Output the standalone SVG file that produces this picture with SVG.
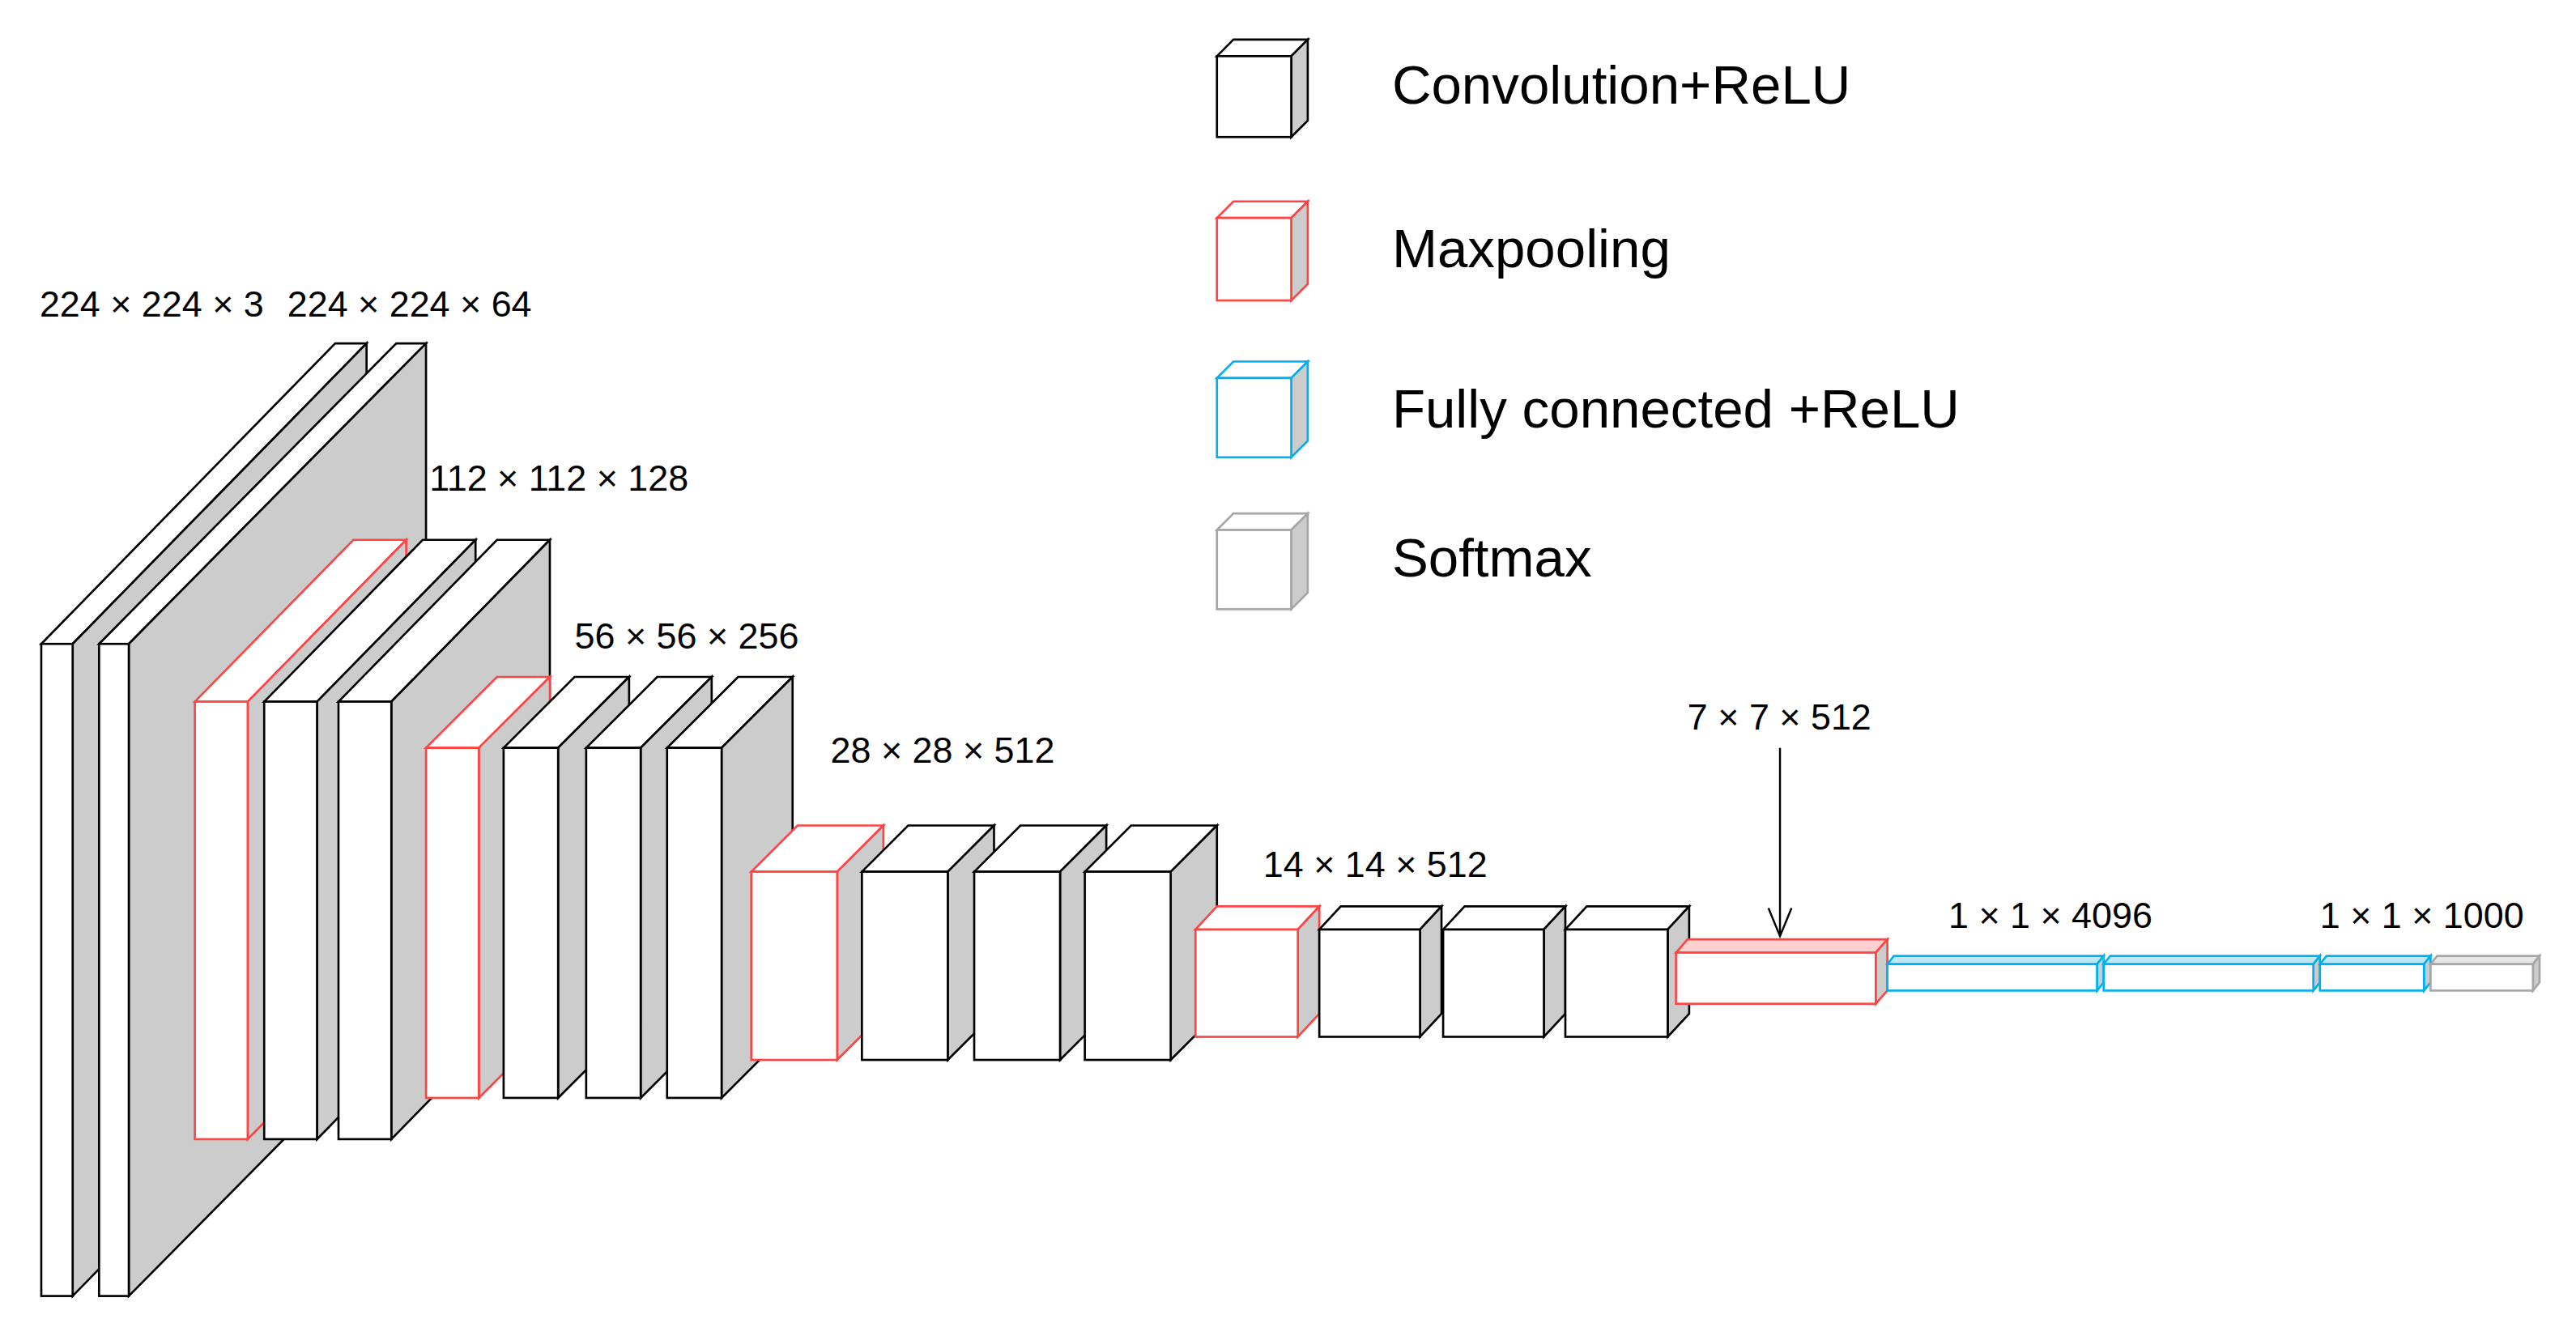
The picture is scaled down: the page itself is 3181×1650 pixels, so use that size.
<svg xmlns="http://www.w3.org/2000/svg" width="3181" height="1650" viewBox="0 0 3181 1650">
<style>
.f{fill:#fff}.s{fill:#cccccc}
.k{stroke:#000;stroke-width:1.3;stroke-linejoin:miter}
.r{stroke:#ff4444;stroke-width:1.3}
.b{stroke:#00b0f0;stroke-width:1.3}
.g{stroke:#a6a6a6;stroke-width:1.3}
text{font-family:"Liberation Sans",Arial,sans-serif;fill:#000}
.lb{font-size:22px}.lg{font-size:33px}
</style>
<rect width="3181" height="1650" fill="#fff"/>
<g transform="scale(2.039)">
<g id="layers">
<g id="l1" class="k"><polygon class="f" points="25,390 203,208 222,208 44,390"/><polygon class="s" points="44,390 222,208 222,603 44,785"/><rect class="f" x="25" y="390" width="19" height="395"/></g>
<g id="l2" class="k"><polygon class="f" points="60,390 240,208 258,208 78,390"/><polygon class="s" points="78,390 258,208 258,603 78,785"/><rect class="f" x="60" y="390" width="18" height="395"/></g>
<g id="l3" class="r"><polygon class="f" points="118,425 214,327 246,327 150,425"/><polygon class="s" points="150,425 246,327 246,592 150,690"/><rect class="f" x="118" y="425" width="32" height="265"/></g>
<g id="l4" class="k"><polygon class="f" points="160,425 256,327 288,327 192,425"/><polygon class="s" points="192,425 288,327 288,592 192,690"/><rect class="f" x="160" y="425" width="32" height="265"/></g>
<g id="l5" class="k"><polygon class="f" points="205,425 301,327 333,327 237,425"/><polygon class="s" points="237,425 333,327 333,592 237,690"/><rect class="f" x="205" y="425" width="32" height="265"/></g>
<g id="l6" class="r"><polygon class="f" points="258,453 301,410 333,410 290,453"/><polygon class="s" points="290,453 333,410 333,622 290,665"/><rect class="f" x="258" y="453" width="32" height="212"/></g>
<g id="l7" class="k"><polygon class="f" points="305,453 348,410 381,410 338,453"/><polygon class="s" points="338,453 381,410 381,622 338,665"/><rect class="f" x="305" y="453" width="33" height="212"/></g>
<g id="l8" class="k"><polygon class="f" points="355,453 398,410 431,410 388,453"/><polygon class="s" points="388,453 431,410 431,622 388,665"/><rect class="f" x="355" y="453" width="33" height="212"/></g>
<g id="l9" class="k"><polygon class="f" points="404,453 447,410 480,410 437,453"/><polygon class="s" points="437,453 480,410 480,622 437,665"/><rect class="f" x="404" y="453" width="33" height="212"/></g>
<g id="l10" class="r"><polygon class="f" points="455,528 483,500 535,500 507,528"/><polygon class="s" points="507,528 535,500 535,614 507,642"/><rect class="f" x="455" y="528" width="52" height="114"/></g>
<g id="l11" class="k"><polygon class="f" points="522,528 550,500 602,500 574,528"/><polygon class="s" points="574,528 602,500 602,614 574,642"/><rect class="f" x="522" y="528" width="52" height="114"/></g>
<g id="l12" class="k"><polygon class="f" points="590,528 618,500 670,500 642,528"/><polygon class="s" points="642,528 670,500 670,614 642,642"/><rect class="f" x="590" y="528" width="52" height="114"/></g>
<g id="l13" class="k"><polygon class="f" points="657,528 685,500 737,500 709,528"/><polygon class="s" points="709,528 737,500 737,614 709,642"/><rect class="f" x="657" y="528" width="52" height="114"/></g>
<g id="l14" class="r"><polygon class="f" points="724,563 737,549 799,549 786,563"/><polygon class="s" points="786,563 799,549 799,614 786,628"/><rect class="f" x="724" y="563" width="62" height="65"/></g>
<g id="l15" class="k"><polygon class="f" points="799,563 812,549 873,549 860,563"/><polygon class="s" points="860,563 873,549 873,614 860,628"/><rect class="f" x="799" y="563" width="61" height="65"/></g>
<g id="l16" class="k"><polygon class="f" points="874,563 887,549 948,549 935,563"/><polygon class="s" points="935,563 948,549 948,614 935,628"/><rect class="f" x="874" y="563" width="61" height="65"/></g>
<g id="l17" class="k"><polygon class="f" points="948,563 961,549 1023,549 1010,563"/><polygon class="s" points="1010,563 1023,549 1023,614 1010,628"/><rect class="f" x="948" y="563" width="62" height="65"/></g>
<g id="l18" class="r"><polygon fill="#ffd0d0" points="1015,577 1022,569 1143,569 1136,577"/><polygon class="s" points="1136,577 1143,569 1143,600 1136,608"/><rect class="f" x="1015" y="577" width="121" height="31"/></g>
<g id="l19" class="b"><polygon fill="#bfe8f8" points="1143,584 1147,579 1274,579 1270,584"/><polygon class="s" points="1270,584 1274,579 1274,595 1270,600"/><rect class="f" x="1143" y="584" width="127" height="16"/></g>
<g id="l20" class="b"><polygon fill="#bfe8f8" points="1274,584 1278,579 1405,579 1401,584"/><polygon class="s" points="1401,584 1405,579 1405,595 1401,600"/><rect class="f" x="1274" y="584" width="127" height="16"/></g>
<g id="l21" class="b"><polygon fill="#bfe8f8" points="1405,584 1409,579 1472,579 1468,584"/><polygon class="s" points="1468,584 1472,579 1472,595 1468,600"/><rect class="f" x="1405" y="584" width="63" height="16"/></g>
<g id="l22" class="g"><polygon fill="#e6e6e6" points="1472,584 1476,579 1538,579 1534,584"/><polygon class="s" points="1534,584 1538,579 1538,595 1534,600"/><rect class="f" x="1472" y="584" width="62" height="16"/></g>
</g>
<g id="connectors" stroke="#000" stroke-width="1.2" fill="none"><line x1="1078" y1="453" x2="1078" y2="567"/><path d="M1071,550 L1078,567 L1085,550"/></g>
<g id="labels" class="lb">
<text x="24" y="192">224 × 224 × 3</text>
<text x="174" y="192">224 × 224 × 64</text>
<text x="260" y="297">112 × 112 × 128</text>
<text x="348" y="393">56 × 56 × 256</text>
<text x="503" y="462">28 × 28 × 512</text>
<text x="765" y="531">14 × 14 × 512</text>
<text x="1022" y="442">7 × 7 × 512</text>
<text x="1180" y="562">1 × 1 × 4096</text>
<text x="1405" y="562">1 × 1 × 1000</text>
</g>
<g id="legend">
<g class="k"><polygon class="f" points="737,34 747,24 792,24 782,34"/><polygon class="s" points="782,34 792,24 792,73 782,83"/><rect class="f" x="737" y="34" width="45" height="49"/></g>
<g class="r"><polygon class="f" points="737,132 747,122 792,122 782,132"/><polygon class="s" points="782,132 792,122 792,172 782,182"/><rect class="f" x="737" y="132" width="45" height="50"/></g>
<g class="b"><polygon class="f" points="737,229 747,219 792,219 782,229"/><polygon class="s" points="782,229 792,219 792,267 782,277"/><rect class="f" x="737" y="229" width="45" height="48"/></g>
<g class="g"><polygon class="f" points="737,321 747,311 792,311 782,321"/><polygon class="s" points="782,321 792,311 792,359 782,369"/><rect class="f" x="737" y="321" width="45" height="48"/></g>
<text class="lg" x="843" y="63">Convolution+ReLU</text>
<text class="lg" x="843" y="162">Maxpooling</text>
<text class="lg" x="843" y="259">Fully connected +ReLU</text>
<text class="lg" x="843" y="349">Softmax</text>
</g>
</g>
</svg>
